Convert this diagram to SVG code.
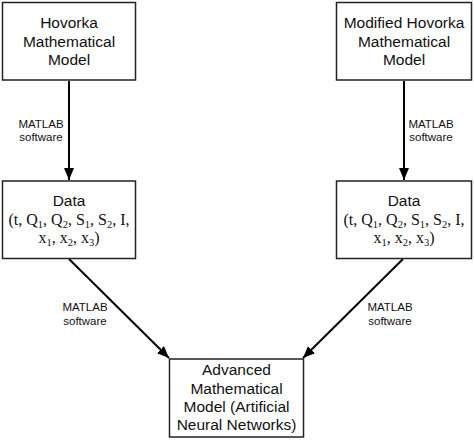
<svg xmlns="http://www.w3.org/2000/svg" width="474" height="441" viewBox="0 0 474 441">
<defs>
<style>
.box{fill:#fff;stroke:#222;stroke-width:1.5}
.t{font-family:"Liberation Sans",Arial,sans-serif;font-size:15.5px;fill:#111;text-anchor:middle}
.s{font-family:"Liberation Serif","Times New Roman",serif;font-size:16px;fill:#111;text-anchor:middle}
.sub{font-size:10.5px}
.lbl{font-family:"Liberation Sans",Arial,sans-serif;font-size:11.5px;fill:#111;text-anchor:middle}
.edge{stroke:#000;stroke-width:2;fill:none}
</style>
<marker id="ah" viewBox="0 0 12 10" refX="12" refY="5" markerWidth="12" markerHeight="10" markerUnits="userSpaceOnUse" orient="auto">
<path d="M0,0 L12,5 L0,10 Z" fill="#000"/>
</marker>
</defs>
<rect width="474" height="441" fill="#fff"/>
<g id="connectors">
<line class="edge" x1="69" y1="81" x2="69" y2="180" marker-end="url(#ah)"/>
<line class="edge" x1="404" y1="81" x2="404" y2="180" marker-end="url(#ah)"/>
<line class="edge" x1="69" y1="259" x2="169" y2="358" marker-end="url(#ah)"/>
<line class="edge" x1="403" y1="259" x2="303" y2="358" marker-end="url(#ah)"/>
<text class="lbl" x="41" y="128">MATLAB</text>
<text class="lbl" x="41" y="141">software</text>
<text class="lbl" x="431" y="128">MATLAB</text>
<text class="lbl" x="431" y="141">software</text>
<text class="lbl" x="85" y="311">MATLAB</text>
<text class="lbl" x="85" y="325">software</text>
<text class="lbl" x="390" y="311">MATLAB</text>
<text class="lbl" x="390" y="325">software</text>
</g>
<g id="hovorka">
<rect class="box" x="2.5" y="2.5" width="133" height="77.5"/>
<text class="t" x="69" y="28">Hovorka</text>
<text class="t" x="69" y="46.5">Mathematical</text>
<text class="t" x="69" y="65">Model</text>
</g>
<g id="modified-hovorka">
<rect class="box" x="336.5" y="2.5" width="135" height="77.5"/>
<text class="t" x="404" y="28">Modified Hovorka</text>
<text class="t" x="404" y="46.5">Mathematical</text>
<text class="t" x="404" y="65">Model</text>
</g>
<g id="data-left">
<rect class="box" x="2.5" y="181" width="133" height="77.5"/>
<text class="t" x="69" y="205.5">Data</text>
<text class="s" x="69" y="225">(t, Q<tspan class="sub" dy="2.5">1</tspan><tspan dy="-2.5">, Q</tspan><tspan class="sub" dy="2.5">2</tspan><tspan dy="-2.5">, S</tspan><tspan class="sub" dy="2.5">1</tspan><tspan dy="-2.5">, S</tspan><tspan class="sub" dy="2.5">2</tspan><tspan dy="-2.5">, I,</tspan></text>
<text class="s" x="69" y="243">x<tspan class="sub" dy="2.5">1</tspan><tspan dy="-2.5">, x</tspan><tspan class="sub" dy="2.5">2</tspan><tspan dy="-2.5">, x</tspan><tspan class="sub" dy="2.5">3</tspan><tspan dy="-2.5">)</tspan></text>
</g>
<g id="data-right">
<rect class="box" x="336.5" y="181" width="135" height="77.5"/>
<text class="t" x="404" y="205.5">Data</text>
<text class="s" x="404" y="225">(t, Q<tspan class="sub" dy="2.5">1</tspan><tspan dy="-2.5">, Q</tspan><tspan class="sub" dy="2.5">2</tspan><tspan dy="-2.5">, S</tspan><tspan class="sub" dy="2.5">1</tspan><tspan dy="-2.5">, S</tspan><tspan class="sub" dy="2.5">2</tspan><tspan dy="-2.5">, I,</tspan></text>
<text class="s" x="404" y="243">x<tspan class="sub" dy="2.5">1</tspan><tspan dy="-2.5">, x</tspan><tspan class="sub" dy="2.5">2</tspan><tspan dy="-2.5">, x</tspan><tspan class="sub" dy="2.5">3</tspan><tspan dy="-2.5">)</tspan></text>
</g>
<g id="advanced-model">
<rect class="box" x="169.5" y="359" width="134" height="78"/>
<text class="t" x="236.5" y="375">Advanced</text>
<text class="t" x="236.5" y="393.5">Mathematical</text>
<text class="t" x="236.5" y="412">Model (Artificial</text>
<text class="t" x="236.5" y="430">Neural Networks)</text>
</g>
</svg>
